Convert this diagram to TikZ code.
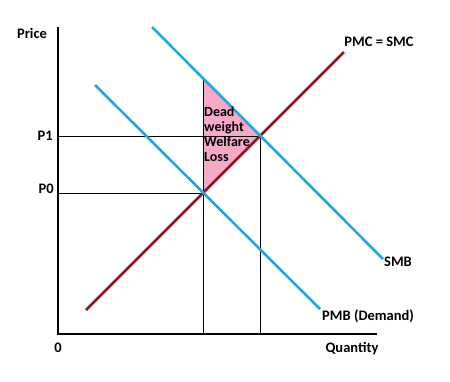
\documentclass[tikz,border=0pt]{standalone}
\usepackage{fontspec}
\setmainfont{Carlito}
\usetikzlibrary{positioning}
\definecolor{curveblue}{RGB}{38,166,222}
\definecolor{curvered}{RGB}{140,22,30}
\definecolor{dwlpink}{RGB}{246,170,200}

\begin{document}
\begin{tikzpicture}[x=1pt,y=-1pt, every node/.style={font=\fontsize{14.5}{15}\selectfont\bfseries, inner sep=1pt}]
    \useasboundingbox (0,0) rectangle (450,381);
    % points
    \coordinate (o) at (58,334);
    \coordinate (ytop) at (58,27);
    \coordinate (xend) at (377,334);
    \coordinate (e0) at (203,193);
    \coordinate (e1) at (260,136);
    \coordinate (top) at (203,79);
    \coordinate (p0) at (58,193);
    \coordinate (p1) at (58,136);
    \coordinate (q0) at (203,334);
    \coordinate (q1) at (260,334);
    \coordinate (smcA) at (86,310);
    \coordinate (smcB) at (344,52);
    \coordinate (smbA) at (152,27);
    \coordinate (smbB) at (383,259);
    \coordinate (pmbA) at (95,85);
    \coordinate (pmbB) at (320,309);
    % deadweight loss
    \fill[dwlpink] (top) -- (e1) -- (e0) -- cycle;
    % guide lines
    \draw[thin] (p1) -- (e1) -- (q1);
    \draw[thin] (p0) -- (e0);
    \draw[thin] (top) -- (q0);
    % curves
    \draw[curvered, line width=2.6pt] (smcA) -- (smcB);
    \draw[curveblue, line width=2.6pt] (smbA) -- (smbB);
    \draw[curveblue, line width=2.6pt] (pmbA) -- (pmbB);
    % axes
    \draw[line width=2.6pt] (ytop) -- (o) -- (xend);
    % labels
    \node (price) at (32,33) {Price};
    \node (zero) at (58,348) {0};
    \node (qty) at (352,349) {Quantity};
    \node[left=4pt of p1] (lp1) {P1};
    \node[left=3pt of p0, yshift=4pt] (lp0) {P0};
    \node (lsmc) at (379,42) {PMC = SMC};
    \node[anchor=west] (lsmb) at (383,262) {SMB};
    \node[anchor=west] (lpmb) at (321,316) {PMB (Demand)};
    \node[anchor=base west, align=left, font=\fontsize{14}{15}\selectfont\bfseries, inner sep=0pt] (dwl) at (204,161) {Dead\\weight\\Welfare\\Loss};
\end{tikzpicture}
\end{document}
